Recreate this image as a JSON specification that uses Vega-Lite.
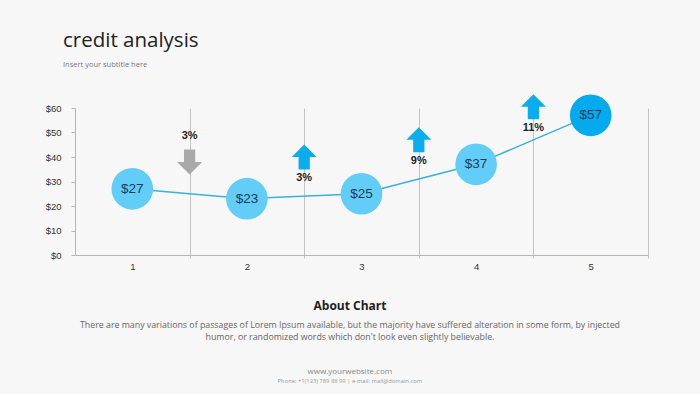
{
  "$schema": "https://vega.github.io/schema/vega-lite/v6.json",
  "background": "#f7f7f7",
  "padding": {"left": 45, "top": 30, "right": 52, "bottom": 10},
  "config": {
    "view": {"stroke": null},
    "font": "Open Sans",
    "concat": {"spacing": 28}
  },
  "title": {
    "text": "www.yourwebsite.com",
    "subtitle": "Phone: +1(123) 789 88 99 | e-mail: mail@domain.com",
    "orient": "bottom",
    "anchor": "middle",
    "frame": "bounds",
    "dx": 3,
    "font": "Open Sans",
    "fontSize": 8,
    "fontWeight": "normal",
    "color": "#888888",
    "subtitleFont": "Open Sans",
    "subtitleFontSize": 5.8,
    "subtitleColor": "#999999",
    "subtitlePadding": 2,
    "offset": 22
  },
  "vconcat": [
    {
      "title": {
        "text": "credit analysis",
        "subtitle": "Insert your subtitle here",
        "anchor": "start",
        "frame": "group",
        "dx": -12,
        "font": "Open Sans",
        "fontSize": 20.5,
        "fontWeight": "normal",
        "color": "#222222",
        "subtitleFont": "Open Sans",
        "subtitleFontSize": 7.5,
        "subtitleColor": "#777777",
        "subtitlePadding": 9.5,
        "offset": 26
      },
      "width": 573,
      "height": 147,
      "data": {"values": [
        {"x": 1, "value": 27, "label": "$27"},
        {"x": 2, "value": 23, "label": "$23"},
        {"x": 3, "value": 25, "label": "$25"},
        {"x": 4, "value": 37, "label": "$37"},
        {"x": 5, "value": 57, "label": "$57"}
      ]},
      "encoding": {
        "x": {
          "field": "x",
          "type": "quantitative",
          "scale": {"domain": [0.5, 5.5], "nice": false, "zero": false},
          "axis": {
            "title": null,
            "values": [1, 1.5, 2, 2.5, 3, 3.5, 4, 4.5, 5, 5.5],
            "labelExpr": "datum.value % 1 === 0 ? format(datum.value, 'd') : ''",
            "grid": true,
            "gridColor": "#c4c4c4",
            "gridWidth": 1,
            "gridOpacity": {"condition": {"test": "datum.value % 1 === 0", "value": 0}, "value": 1},
            "tickOpacity": {"condition": {"test": "datum.value % 1 === 0", "value": 0}, "value": 1},
            "tickColor": "#c4c4c4",
            "tickSize": 3,
            "domainColor": "#b5b5b5",
            "labelFont": "Liberation Sans",
            "labelFontSize": 9.5,
            "labelColor": "#333333",
            "labelPadding": 3,
            "labelFlush": false
          }
        },
        "y": {
          "field": "value",
          "type": "quantitative",
          "scale": {"domain": [0, 60], "nice": false},
          "axis": {
            "title": null,
            "values": [0, 10, 20, 30, 40, 50, 60],
            "labelExpr": "'$' + datum.value",
            "grid": false,
            "domainColor": "#b5b5b5",
            "tickColor": "#b5b5b5",
            "tickSize": 4,
            "labelFont": "Liberation Sans",
            "labelFontSize": 9.5,
            "labelColor": "#333333",
            "labelPadding": 10
          }
        }
      },
      "layer": [
        {"mark": {"type": "line", "color": "#3ab2d8", "strokeWidth": 1.5}},
        {
          "mark": {"type": "point", "filled": true, "opacity": 1, "size": 1735},
          "encoding": {
            "color": {"condition": {"test": "datum.x === 5", "value": "#03aaee"}, "value": "#62cdf6"}
          }
        },
        {
          "mark": {"type": "text", "font": "Liberation Sans", "fontSize": 13.5, "color": "#1b3a5c"},
          "encoding": {"text": {"field": "label"}}
        },
        {
          "data": {"values": [
            {"x": 1.5, "value": 38, "dir": "down", "pct": "3%"},
            {"x": 2.5, "value": 40, "dir": "up", "pct": "3%"},
            {"x": 3.5, "value": 47, "dir": "up", "pct": "9%"},
            {"x": 4.5, "value": 60.5, "dir": "up", "pct": "11%"}
          ]},
          "layer": [
            {
              "transform": [{"filter": "datum.dir === 'up'"}],
              "mark": {"type": "point", "filled": true, "opacity": 1, "size": 625, "color": "#0aaeee",
                       "shape": "M0,-1L1,0L0.45,0L0.45,1L-0.45,1L-0.45,0L-1,0Z"}
            },
            {
              "transform": [{"filter": "datum.dir === 'down'"}],
              "mark": {"type": "point", "filled": true, "opacity": 1, "size": 625, "color": "#a9a9a9",
                       "shape": "M0,1L1,0L0.45,0L0.45,-1L-0.45,-1L-0.45,0L-1,0Z"}
            },
            {
              "transform": [{"filter": "datum.dir === 'up'"}],
              "mark": {"type": "text", "font": "Liberation Sans", "fontSize": 11, "fontWeight": "bold", "color": "#222222", "dy": 21},
              "encoding": {"text": {"field": "pct"}}
            },
            {
              "transform": [{"filter": "datum.dir === 'down'"}],
              "mark": {"type": "text", "font": "Liberation Sans", "fontSize": 11, "fontWeight": "bold", "color": "#222222", "dy": -26},
              "encoding": {"text": {"field": "pct"}}
            }
          ]
        }
      ]
    },
    {
      "width": 550,
      "height": 1,
      "title": {
        "text": "About Chart",
        "subtitle": [
          "There are many variations of passages of Lorem Ipsum available, but the majority have suffered alteration in some form, by injected",
          "humor, or randomized words which don't look even slightly believable."
        ],
        "anchor": "middle",
        "frame": "group",
        "font": "Open Sans",
        "fontSize": 12,
        "fontWeight": "bold",
        "color": "#222222",
        "subtitleFont": "Open Sans",
        "subtitleFontSize": 8.8,
        "subtitleColor": "#666666",
        "subtitleLineHeight": 12.5,
        "subtitlePadding": 8,
        "offset": 2
      },
      "data": {"values": [{}]},
      "mark": {"type": "point", "opacity": 0, "size": 0}
    }
  ]
}
